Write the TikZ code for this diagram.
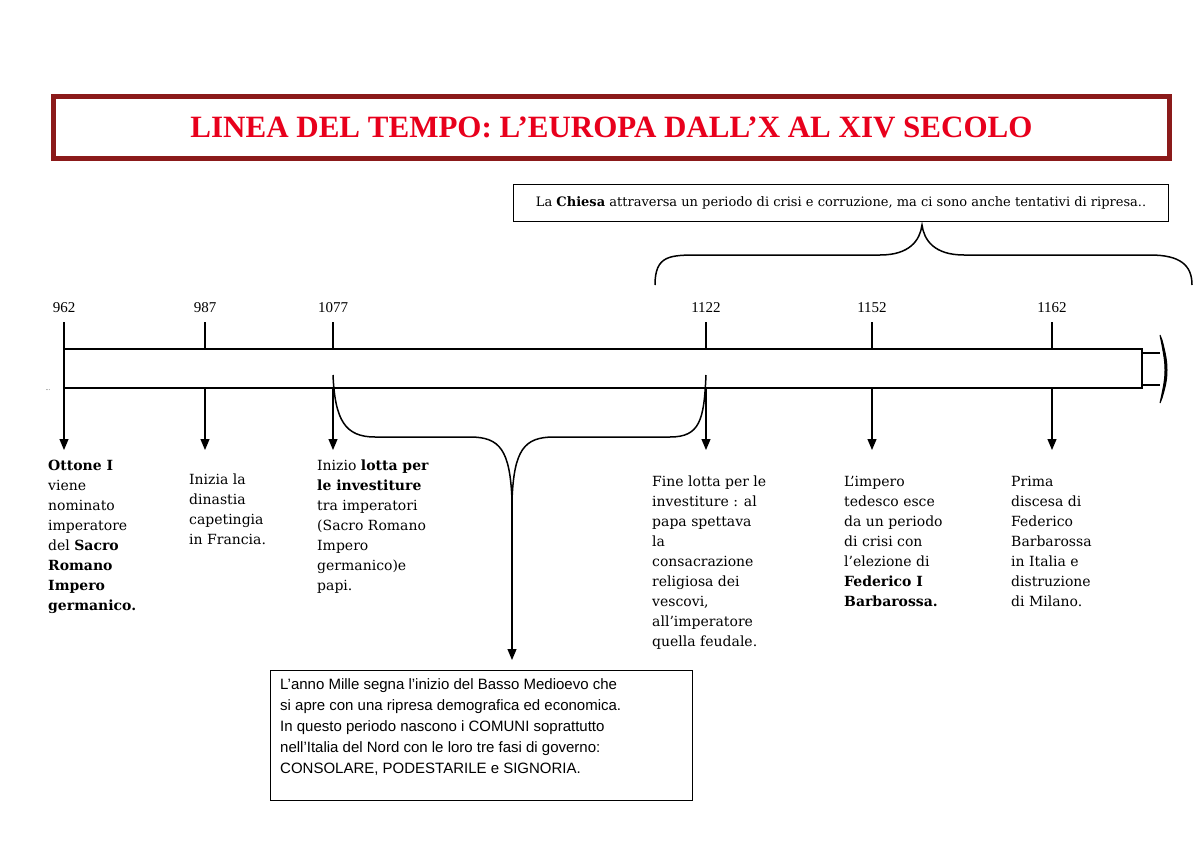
\documentclass[tikz,border=0pt]{standalone}
\usetikzlibrary{arrows.meta}
\usepackage{fontspec}
\setmainfont{DejaVu Serif}
\newfontfamily\lib{Liberation Serif}
\newfontfamily\libs{Liberation Sans}
\definecolor{dred}{HTML}{8B1A1A}
\definecolor{tred}{HTML}{E8001C}
\begin{document}
\begin{tikzpicture}[x=1pt,y=-1pt,
 lbl/.style={font=\fontsize{14}{20}\selectfont,anchor=north west,align=left,inner sep=0},
 yr/.style={font=\lib\fontsize{15}{17}\selectfont},
 arr/.style={-{Triangle[length=11pt,width=9pt]},line width=1.2pt},
 ln/.style={line width=1.5pt}]
\useasboundingbox (0,0) rectangle (1200,849);
\node[draw=dred,line width=5pt,minimum width=1116pt,minimum height=62pt,anchor=north west,inner sep=0] (title) at (51,94) {};
\node[font=\lib\bfseries\fontsize{31}{34}\selectfont,text=tred] at (title.center) {LINEA DEL TEMPO: L’EUROPA DALL’X AL XIV SECOLO};
\node[draw,line width=1.2pt,minimum width=655pt,minimum height=37pt,anchor=north west,inner sep=0,font=\fontsize{13}{15}\selectfont] (chiesa) at (513,184) {La \textbf{Chiesa} attraversa un periodo di crisi e corruzione, ma ci sono anche tentativi di ripresa..};
\draw[ln] (655,285) .. controls (655,255) and (670,255) .. (700,255) -- (880,255) .. controls (910,255) and (920,240) .. (922,225)
 .. controls (924,240) and (934,255) .. (964,255) -- (1150,255) .. controls (1180,255) and (1192,265) .. (1192,285);
% bar
\draw[ln] (64,349) -- (1142,349) -- (1142,388) -- (64,388);
\draw[ln] (1142,353) -- (1160,353) (1142,385) -- (1160,385);
\draw[line width=1pt,fill=black] (1160,335) -- (1162,340) .. controls (1166,355) and (1167,362) .. (1167,370) .. controls (1167,378) and (1166,385) .. (1162,398) -- (1160,403) .. controls (1164,385) and (1165,378) .. (1165,370) .. controls (1165,362) and (1164,355) .. cycle;
\node[font=\tiny] at (48,390) {...};
% years
\foreach \x/\y/\n in {64/962/a,205/987/b,333/1077/c,706/1122/d,872/1152/e,1052/1162/f}{
 \node[yr] (y\n) at (\x,308) {\y};
 \draw[ln] (\x,322) -- (\x,349);}
\draw[arr] (64,349) -- (64,450);
\foreach \x in {205,333,706,872,1052} \draw[arr] (\x,388) -- (\x,450);
\draw[ln] (333,375) .. controls (335,420) and (345,437) .. (375,437) -- (470,437) .. controls (500,437) and (510,450) .. (512,500)
 .. controls (514,450) and (524,437) .. (554,437) -- (670,437) .. controls (700,437) and (704,420) .. (706,375);
\draw[arr] (512,500) -- (512,660);
% labels
\node[lbl] (t1) at (48,460) {\textbf{Ottone I}\\viene\\nominato\\imperatore\\del \textbf{Sacro}\\\textbf{Romano}\\\textbf{Impero}\\\textbf{germanico.}};
\node[lbl] (t2) at (189,474) {Inizia la\\dinastia\\capetingia\\in Francia.};
\node[lbl] (t3) at (317,460) {Inizio \textbf{lotta per}\\\textbf{le investiture}\\tra imperatori\\(Sacro Romano\\Impero\\germanico)e\\papi.};
\node[lbl] (t4) at (652,476) {Fine lotta per le\\investiture : al\\papa spettava\\la\\consacrazione\\religiosa dei\\vescovi,\\all’imperatore\\quella feudale.};
\node[lbl] (t5) at (844,476) {L’impero\\tedesco esce\\da un periodo\\di crisi con\\l’elezione di\\\textbf{Federico I}\\\textbf{Barbarossa.}};
\node[lbl] (t6) at (1011,476) {Prima\\discesa di\\Federico\\Barbarossa\\in Italia e\\distruzione\\di Milano.};
\node[draw,line width=1.2pt,anchor=north west,minimum width=422pt,minimum height=130pt,inner sep=0] (box) at (270,670) {};
\node[anchor=north west,align=left,inner sep=0,font=\libs\fontsize{15}{21}\selectfont] at (280,678) {L’anno Mille segna l’inizio del Basso Medioevo che\\si apre con una ripresa demografica ed economica.\\In questo periodo nascono i COMUNI soprattutto\\nell’Italia del Nord con le loro tre fasi di governo:\\CONSOLARE, PODESTARILE e SIGNORIA.};
\end{tikzpicture}
\end{document}
